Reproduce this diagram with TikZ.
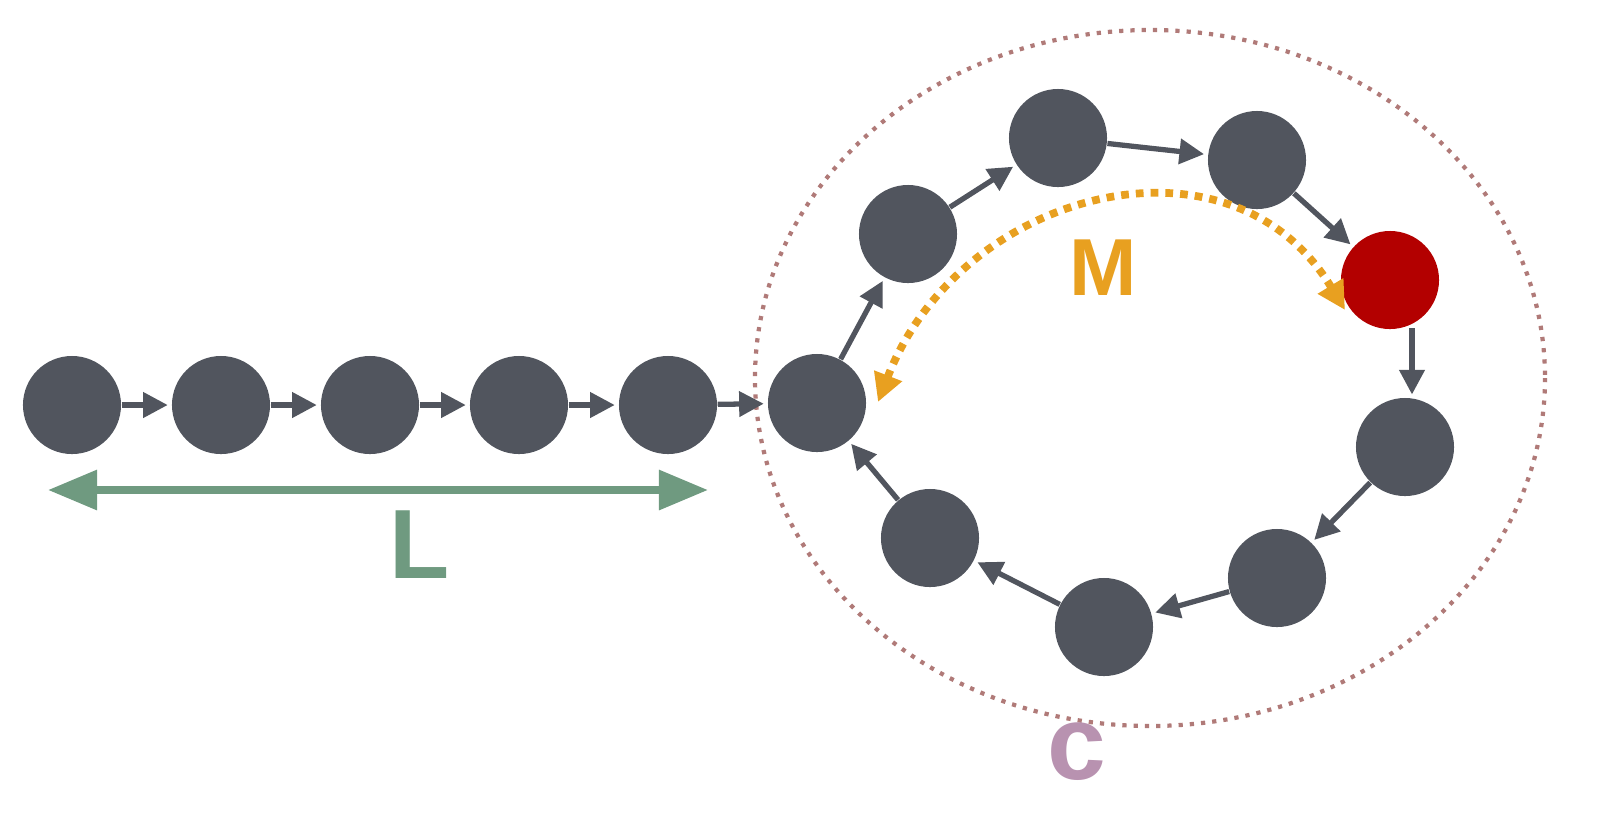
\documentclass[tikz,border=0pt]{standalone}
\usepackage{fontspec}
\setmainfont{Liberation Sans}
\usetikzlibrary{arrows.meta}
\definecolor{nd}{HTML}{51555E}
\definecolor{lg}{HTML}{6F9A80}
\definecolor{mo}{HTML}{E8A020}
\definecolor{cp}{HTML}{B892B0}
\definecolor{el}{HTML}{B07A78}
\begin{document}
\begin{tikzpicture}[x=0.01cm,y=-0.01cm,
  n/.style={circle,fill=nd,minimum size=0.98cm,inner sep=0pt},
  a/.style={draw=nd,line width=1.5pt,-{Triangle[length=7pt,width=7pt]},shorten >=1pt}]
\useasboundingbox (0,0) rectangle (1599,829);
\draw[el,dotted,line width=1.2pt] (1150,378) ellipse [x radius=395,y radius=348];
\foreach \i/\x in {1/72,2/221,3/370,4/519,5/668} \node[n] (l\i) at (\x,405) {};
\node[n] (c0) at (817,403) {};
\node[n] (c1) at (908,234) {};
\node[n] (c2) at (1058,138) {};
\node[n] (c3) at (1257,160) {};
\node[circle,fill={rgb,255:red,179;green,0;blue,0},minimum size=0.98cm,inner sep=0pt] (c4) at (1390,280) {};
\node[n] (c5) at (1405,447) {};
\node[n] (c6) at (1277,578) {};
\node[n] (c7) at (1104,627) {};
\node[n] (c8) at (930,538) {};
\draw[a] (l1)--(l2); \draw[a] (l2)--(l3); \draw[a] (l3)--(l4); \draw[a] (l4)--(l5); \draw[a] (l5)--(c0);
\draw[a] (c0)--(c1); \draw[a] (c1)--(c2); \draw[a] (c2)--(c3); \draw[a] (c3)--(c4);
\coordinate (t0) at (1412,328);
\draw[a] (t0) -- (1412,398) coordinate (t1);
\draw[a] (c5)--(c6); \draw[a] (c6)--(c7); \draw[a] (c7)--(c8); \draw[a] (c8)--(c0);
\coordinate (la) at (48,490); \coordinate (lb) at (708,490);
\draw[lg,line width=2.2pt,{Triangle[length=14pt,width=11pt]}-{Triangle[length=14pt,width=11pt]}] (la)--(lb);
\node[lg,font=\bfseries\fontsize{28}{28}\selectfont] (L) at (420,545) {L};
\coordinate (ma) at (878,402); \coordinate (mb) at (1345,310);
\draw[mo,line width=2.2pt,dotted,{Triangle[length=8pt,width=8pt]}-{Triangle[length=8pt,width=8pt]}] (ma) .. controls (960,190) and (1230,120) .. (mb);
\node[mo,font=\bfseries\fontsize{23}{23}\selectfont] (M) at (1103,268) {M};
\node[cp,font=\bfseries\fontsize{30}{30}\selectfont] (C) at (1077,752) {c};
\end{tikzpicture}
\end{document}
